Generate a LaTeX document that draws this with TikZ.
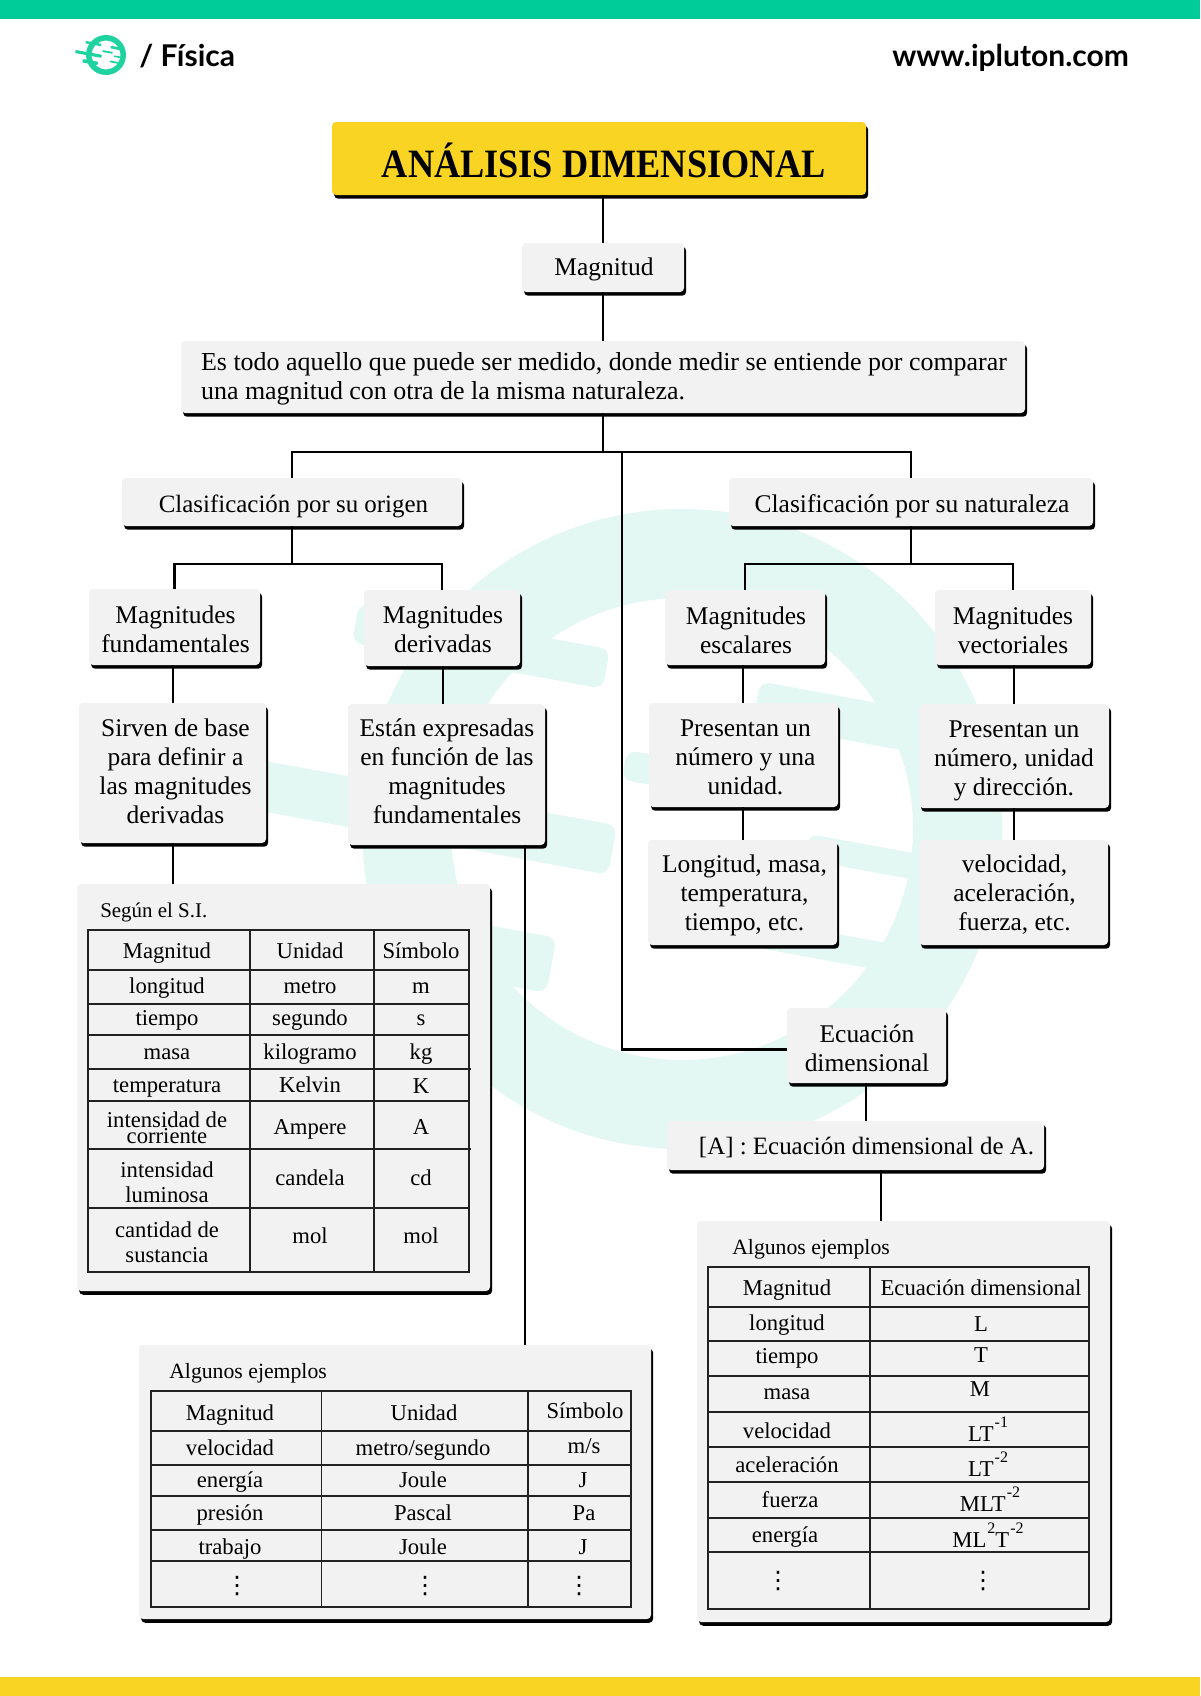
\documentclass[tikz,border=0pt]{standalone}
\usepackage{fontspec}
\usetikzlibrary{shadows,calc}
\setmainfont{Liberation Serif}
\newfontfamily\hdrfont{Lato}
\newfontfamily\symfont{DejaVu Sans}
\newfontfamily\titlefont[FakeStretch=0.9]{Liberation Serif}
\definecolor{topgreen}{HTML}{00CC99}
\definecolor{logogreen}{HTML}{1FD3A0}
\definecolor{botyellow}{HTML}{F9D423}
\definecolor{boxgray}{HTML}{F2F2F2}
\definecolor{mint}{HTML}{E3F8F2}
\definecolor{tableline}{HTML}{222222}
\tikzset{
  basebox/.style={rounded corners=3pt,inner sep=0pt,
    general shadow={fill=black,shadow xshift=1.6pt,shadow yshift=-2.8pt}},
  graybox/.style={basebox,fill=boxgray,font=\fontsize{19.1pt}{21.75pt}\selectfont},
  smallbox/.style={graybox,font=\fontsize{18.7pt}{21.75pt}\selectfont},
  defnbox/.style={graybox,font=\fontsize{19.45pt}{21.75pt}\selectfont},
  titlebox/.style={basebox,fill=botyellow,font=\titlefont\bfseries\fontsize{30.2pt}{34pt}\selectfont},
  conn/.style={draw=black,line width=1.8pt},
  tline/.style={draw=tableline,line width=1.1pt},
  cell/.style={inner sep=0pt,anchor=base,yshift=-5.25pt,font=\fontsize{17pt}{18.7pt}\selectfont,align=center},
  cellmid/.style={anchor=center,yshift=0pt},
  paneltitle/.style={inner sep=0pt,anchor=base west,font=\fontsize{16.3pt}{19pt}\selectfont},
  hdr/.style={inner sep=0pt,anchor=base west,font=\hdrfont\bfseries\fontsize{22.5pt}{26pt}\selectfont},
}
\newcommand{\bx}[7][graybox]{%
  \pgfmathsetmacro\bxcx{(#3+#5)/2}\pgfmathsetmacro\bxcy{(#4+#6)/2}%
  \pgfmathsetmacro\bxw{(#5-#3)*0.75}\pgfmathsetmacro\bxh{(#6-#4)*0.75}%
  \node[#1,minimum width=\bxw pt,minimum height=\bxh pt] (#2) at (\bxcx,\bxcy) {#7};}
\newcommand{\tx}[4][c]{\raisebox{\dimexpr-#3pt*3/4\relax}[\height][\depth]{\hspace*{\dimexpr #2pt*3/2\relax}\begin{tabular}{@{}#1@{}}#4\end{tabular}}}
\newcount\cellno
\newcommand{\cel}[4][]{\global\advance\cellno by 1
  \node[cell,#1] (cell\the\cellno) at (#2,#3) {#4};}
\newcommand{\expo}[1]{\kern0.8pt\raisebox{10pt}{\fontsize{12pt}{12pt}\selectfont #1}}
\newcommand{\vd}{{\symfont\fontsize{18pt}{20pt}\selectfont ⋮}}
\newcommand{\lgbar}[4]{\fill[rotate around={-10.4:(#1,#2)},rounded corners=\lgr]
  ({#1-#3/2},{#2-#4/2}) rectangle ({#1+#3/2},{#2+#4/2});}
\newcommand{\plutonlogo}[5]{%
  \def\lgr{#5}%
  \begin{scope}[shift={(#1,#2)},scale=#3,color=#4]
    \fill[even odd rule] (0,0) circle[radius=320] (0,0) circle[radius=231];
    \lgbar{-201}{-183}{255}{40}
    \lgbar{-280}{-17.5}{428}{50}
    \lgbar{-252}{114}{247}{56}
    \lgbar{161}{-111}{176}{42}
    \lgbar{25}{-49}{168}{30}
    \lgbar{186}{29}{125}{26}
    \lgbar{138}{116}{162}{28}
  \end{scope}}
\begin{document}
\begin{tikzpicture}[x=0.75pt,y=-0.75pt]
\useasboundingbox (0,0) rectangle (1200,1696);
\fill[white] (0,0) rectangle (1200,1696);
\fill[topgreen] (0,0) rectangle (1200,19);
\fill[botyellow] (0,1677) rectangle (1200,1696);
\plutonlogo{682}{829}{1}{mint}{7.5pt}
\plutonlogo{106}{55}{0.0625}{logogreen}{0.6pt}
\node[hdr] (fisica) at (139,66) {/ Física};
\node[hdr] (web) at (892,66) {www.ipluton.com};
% boxes
\bx[titlebox]{title}{332}{122}{866}{195}{\tx{5}{8.7}{ANÁLISIS DIMENSIONAL}}
\bx{mag}{522}{243}{684}{292}{\tx{1}{2.2}{Magnitud}}
\bx[defnbox]{defn}{181}{341}{1025}{413}{\tx[l]{1}{2.2}{Es todo aquello que puede ser medido, donde medir se entiende por comparar\\una magnitud con otra de la misma naturaleza.}}
\bx[smallbox]{origen}{122}{478}{462}{526}{\tx{1.5}{4.3}{Clasificación por su origen}}
\bx{nat}{729}{478}{1093}{526}{\tx{1}{4.3}{Clasificación por su naturaleza}}
\bx{fund}{89}{589}{260}{665}{\tx{1}{5.4}{Magnitudes\\fundamentales}}
\bx{deriv}{364}{590}{520}{666}{\tx{1}{4.3}{Magnitudes\\derivadas}}
\bx{esc}{665}{590}{825}{665}{\tx{1}{5.4}{Magnitudes\\escalares}}
\bx{vect}{935}{590}{1091}{665}{\tx{0}{5.4}{Magnitudes\\vectoriales}}
\bx{sirven}{79}{703}{266}{843}{\tx{3}{1}{Sirven de base\\para definir a\\las magnitudes\\derivadas}}
\bx{estan}{348}{704}{545}{845}{\tx{0.5}{0}{Están expresadas\\en función de las\\magnitudes\\fundamentales}}
\bx{pres1}{649}{703}{838}{807}{\tx{2}{4.3}{Presentan un\\número y una\\unidad.}}
\bx{pres2}{919}{704}{1109}{808}{\tx{0}{4.3}{Presentan un\\número, unidad\\y dirección.}}
\bx{long}{648}{840}{837}{945}{\tx{2}{3.2}{Longitud, masa,\\temperatura,\\tiempo, etc.}}
\bx{vel}{919}{840}{1108}{945}{\tx{1}{3.2}{velocidad,\\aceleración,\\fuerza, etc.}}
\bx{ecu}{787}{1008}{946}{1083}{\tx{0.5}{5.4}{Ecuación\\dimensional}}
\bx[smallbox]{ab}{667}{1121}{1044}{1170}{\tx{11}{3.2}{[A] : Ecuación dimensional de A.}}
\bx{si}{77}{884}{490}{1291}{}
\bx{alg}{139}{1345}{651}{1619}{}
\bx{eje}{697}{1221}{1110}{1622}{}
% connector guides
\coordinate (j1) at (603,452);
\coordinate (j2) at (622,452);
\coordinate (j4) at (292,564);
\coordinate (j5) at (911,564);
\coordinate (c1) at (173,0);
\coordinate (c2) at (443,0);
\coordinate (c3) at (525,0);
\coordinate (c4) at (743,0);
\coordinate (c5) at (1014,0);
\coordinate (c6) at (866,0);
\coordinate (c7) at (881,0);
\draw[conn] (j1 |- title.south) -- (j1 |- mag.north);
\draw[conn] (j1 |- mag.south) -- (j1 |- defn.north);
\draw[conn] (j1 |- defn.south) -- (j1);
\draw[conn,line join=miter] (origen.north) |- (j1) -| (nat.north);
\draw[conn,line join=miter] (j2) |- ([yshift=-3pt]ecu.west);
\draw[conn,line join=miter] (j4 |- origen.south) -- (j4);
\draw[conn,line join=miter] (fund.north) |- (j4) -| (deriv.north);
\draw[conn] (j5 |- nat.south) -- (j5);
\draw[conn,line join=miter] (esc.north) |- (j5) -| (vect.north);
\draw[conn] (c1 |- fund.south) -- (c1 |- sirven.north);
\draw[conn] (c1 |- sirven.south) -- (c1 |- si.north);
\draw[conn] (c2 |- deriv.south) -- (c2 |- estan.north);
\draw[conn] (c3 |- estan.south) -- (c3 |- alg.north);
\draw[conn] (c4 |- esc.south) -- (c4 |- pres1.north);
\draw[conn] (c4 |- pres1.south) -- (c4 |- long.north);
\draw[conn] (c5 |- vect.south) -- (c5 |- pres2.north);
\draw[conn] (c5 |- pres2.south) -- (c5 |- vel.north);
\draw[conn] (c6 |- ecu.south) -- (c6 |- ab.north);
\draw[conn] (c7 |- ab.south) -- (c7 |- eje.north);
% table: S.I.
\node[paneltitle,font=\fontsize{15.7pt}{19pt}\selectfont] (sititle) at (100,917) {Según el S.I.};
\draw[tline] (88,930) rectangle (469,1272);
\foreach \xx in {250,374} \draw[tline] (\xx,930) -- (\xx,1272);
\foreach \yy in {970,1004,1035} \draw[tline] (88,\yy) -- (469,\yy);
\draw[tline] (88,1069) -- (470.5,1069);
\draw[tline] (86.5,1101) -- (469,1101);
\draw[tline] (88,1149) -- (470.5,1149);
\draw[tline] (88,1208) -- (469,1208);
\cel{167}{951}{Magnitud}\cel{310}{951}{Unidad}\cel{421}{951}{Símbolo}
\cel{167}{986}{longitud}\cel{310}{986}{metro}\cel{421}{986}{m}
\cel{167}{1018}{tiempo}\cel{310}{1018}{segundo}\cel{421}{1018}{s}
\cel{167}{1052}{masa}\cel{310}{1052}{kilogramo}\cel{421}{1052}{kg}
\cel{167}{1085}{temperatura}\cel{310}{1085}{Kelvin}\cel{421}{1086}{K}
\cel[cellmid,font=\fontsize{17pt}{12pt}\selectfont]{167}{1121}{intensidad de\\corriente}
\cel{310}{1127}{Ampere}\cel{421}{1127}{A}
\cel[cellmid]{167}{1175}{intensidad\\luminosa}
\cel{310}{1178}{candela}\cel{421}{1178}{cd}
\cel[cellmid]{167}{1235}{cantidad de\\sustancia}
\cel{310}{1236}{mol}\cel{421}{1236}{mol}
% table: derived
\node[paneltitle] (algtitle) at (169,1378) {Algunos ejemplos};
\draw[tline] (151,1391) rectangle (631,1607);
\foreach \xx in {321.5,528} \draw[tline] (\xx,1391) -- (\xx,1607);
\foreach \yy in {1431,1465,1496,1530,1561} \draw[tline] (151,\yy) -- (631,\yy);
\cel{230}{1413}{Magnitud}\cel{424}{1413}{Unidad}\cel{585}{1411}{Símbolo}
\cel{230}{1448}{velocidad}\cel{423}{1448}{metro/segundo}\cel{584}{1446}{m/s}
\cel{230}{1480}{energía}\cel{423}{1480}{Joule}\cel{583}{1480}{J}
\cel{230}{1513}{presión}\cel{423}{1513}{Pascal}\cel{584}{1513}{Pa}
\cel{230}{1547}{trabajo}\cel{423}{1547}{Joule}\cel{583}{1547}{J}
\cel[cellmid]{237}{1579.5}{\vd}\cel[cellmid]{425}{1579.5}{\vd}\cel[cellmid]{579}{1579.5}{\vd}
% table: equations
\node[paneltitle] (ejetitle) at (732,1254) {Algunos ejemplos};
\draw[tline] (708,1267) rectangle (1089,1609);
\draw[tline] (870,1267) -- (870,1609);
\foreach \yy in {1307,1341,1376,1412,1447,1482,1518,1552} \draw[tline] (708,\yy) -- (1089,\yy);
\cel{787}{1288}{Magnitud}\cel{981}{1288}{Ecuación dimensional}
\cel{787}{1323}{longitud}\cel{981}{1324}{L}
\cel{787}{1356}{tiempo}\cel{981}{1355}{T}
\cel{787}{1392}{masa}\cel{980}{1389}{M}
\cel{787}{1431}{velocidad}\cel{988}{1434}{LT\expo{-1}}
\cel{787}{1465}{aceleración}\cel{988}{1469}{LT\expo{-2}}
\cel{790}{1500}{fuerza}\cel{990}{1504}{MLT\expo{-2}}
\cel{785}{1535}{energía}\cel{988}{1540}{ML\expo{2}T\expo{-2}}
\cel[cellmid]{778}{1574.5}{\vd}\cel[cellmid]{983}{1574.5}{\vd}
\end{tikzpicture}
\end{document}
